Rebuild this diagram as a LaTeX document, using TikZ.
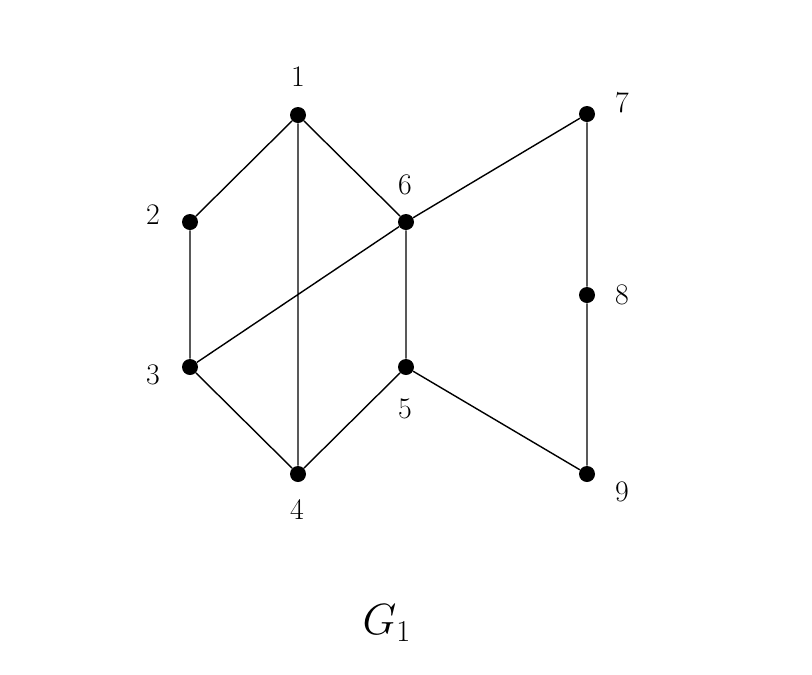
\documentclass[tikz,border=0pt]{standalone}
\begin{document}
\begin{tikzpicture}[x=0.02cm,y=-0.02cm,
  dot/.style={circle,fill=black,inner sep=0pt,minimum size=0.32cm},
  lbl/.style={font=\fontsize{17}{20}\selectfont},
  edge/.style={line width=0.8pt}]
\useasboundingbox (0,0) rectangle (812,674);
\node[dot] (n1) at (298,115) {};
\node[dot] (n2) at (190,222) {};
\node[dot] (n3) at (190,367) {};
\node[dot] (n4) at (298,474) {};
\node[dot] (n5) at (406,367) {};
\node[dot] (n6) at (406,222) {};
\node[dot] (n7) at (587,114) {};
\node[dot] (n8) at (587,295) {};
\node[dot] (n9) at (587,474) {};
\node[lbl] (l1) at (298,77) {1};
\node[lbl] (l2) at (153,215) {2};
\node[lbl] (l3) at (153,375) {3};
\node[lbl] (l4) at (297,509) {4};
\node[lbl] (l5) at (405,409) {5};
\node[lbl] (l6) at (405,185) {6};
\node[lbl] (l7) at (622,103) {7};
\node[lbl] (l8) at (622,295) {8};
\node[lbl] (l9) at (622,492) {9};
\node[font=\fontsize{25}{30}\selectfont] (g) at (387,623) {$G_1$};
\draw[edge] (n1)--(n2) (n1)--(n4) (n1)--(n6) (n2)--(n3) (n3)--(n4) (n3)--(n6)
  (n4)--(n5) (n5)--(n6) (n6)--(n7) (n7)--(n8) (n8)--(n9) (n5)--(n9);
\end{tikzpicture}
\end{document}
